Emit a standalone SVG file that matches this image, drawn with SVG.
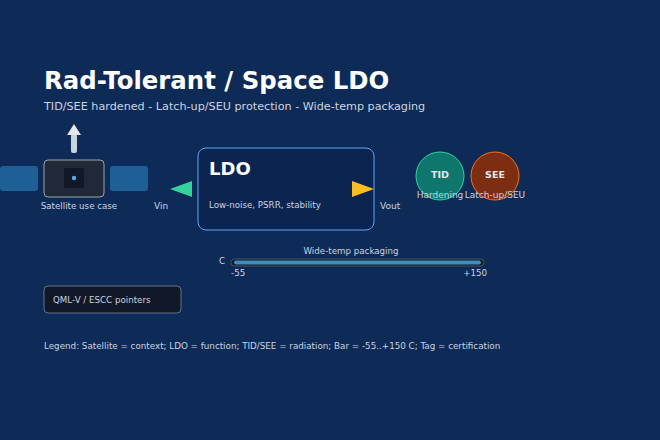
<svg xmlns="http://www.w3.org/2000/svg" width="660" height="440" viewBox="0 0 660 440">
<style>
text{font-family:"DejaVu Sans",sans-serif;fill:#cbd5e1}
.s{font-size:9px}
.panel{fill:#1e5f96}
</style>
<rect width="660" height="440" fill="#0e2a56"/>
<text x="44" y="89" style="font-size:24.4px;font-weight:bold;fill:#ffffff">Rad-Tolerant / Space LDO</text>
<text x="44" y="110" style="font-size:11.2px">TID/SEE hardened - Latch-up/SEU protection - Wide-temp packaging</text>
<g id="satellite">
<rect class="panel" x="0" y="166" width="38" height="25" rx="3"/>
<rect class="panel" x="110" y="166" width="38" height="25" rx="3"/>
<rect x="44" y="160" width="60" height="37" rx="4" fill="#1f2937" stroke="#9ca3af"/>
<rect x="64" y="168" width="20" height="20" rx="2" fill="#111827"/>
<circle cx="74" cy="178" r="2.2" fill="#60a5fa"/>
<rect x="71" y="134" width="6" height="19" rx="2" fill="#cbd5e1"/>
<polygon points="67,135 81,135 74,124" fill="#e5e7eb"/>
<text x="79" y="209" text-anchor="middle" style="font-size:8.7px">Satellite use case</text>
</g>
<g id="ldo">
<rect x="198" y="148" width="176" height="82" rx="8" fill="#0b2550" stroke="#60a5fa"/>
<text x="209" y="175" style="font-size:18px;font-weight:bold;fill:#ffffff">LDO</text>
<text x="209" y="208" style="font-size:8.7px">Low-noise, PSRR, stability</text>
</g>
<g id="connectors">
<polygon points="170,189 192,181 192,197" fill="#34d399"/>
<text x="154" y="209" class="s">Vin</text>
<polygon points="352,181 352,197 374,189" fill="#fbbf24"/>
<text x="380" y="209" class="s">Vout</text>
</g>
<g id="tid">
<circle cx="440" cy="176" r="24" fill="#0f766e" stroke="#34d399"/>
<text x="440" y="178" text-anchor="middle" style="font-size:9.5px;font-weight:bold;fill:#e5e7eb">TID</text>
<text x="440" y="198" text-anchor="middle" class="s">Hardening</text>
</g>
<g id="see">
<circle cx="495" cy="176" r="24" fill="#7c2d12" stroke="#f97316"/>
<text x="495" y="178" text-anchor="middle" style="font-size:9.5px;font-weight:bold;fill:#e5e7eb">SEE</text>
<text x="495" y="198" text-anchor="middle" class="s">Latch-up/SEU</text>
</g>
<g id="tempbar">
<text x="351" y="254" text-anchor="middle" style="font-size:8.7px">Wide-temp packaging</text>
<text x="219" y="264" style="font-size:8.7px">C</text>
<rect x="231" y="259" width="253" height="7" rx="3.5" fill="#111827" stroke="#475569"/>
<rect x="234" y="260.5" width="247" height="4" rx="2" fill="#3b8fc0"/>
<text x="231" y="276" style="font-size:8.7px">-55</text>
<text x="487" y="276" text-anchor="end" style="font-size:8.7px">+150</text>
</g>
<g id="cert">
<rect x="44" y="286" width="137" height="27" rx="4" fill="#111827" stroke="#64748b"/>
<text x="53" y="303" style="font-size:8.7px">QML-V / ESCC pointers</text>
</g>
<text x="44" y="349" style="font-size:8.75px">Legend: Satellite = context; LDO = function; TID/SEE = radiation; Bar = -55..+150 C; Tag = certification</text>
</svg>
